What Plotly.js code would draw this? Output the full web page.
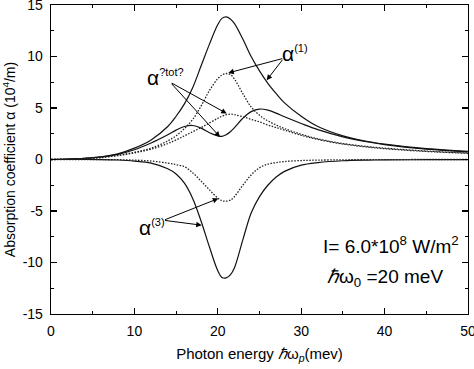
<!DOCTYPE html>
<html>
<head>
<meta charset="utf-8">
<script src="https://cdn.plot.ly/plotly-3.0.1.min.js"></script>
<style>html,body{margin:0;padding:0;background:#fff;}#chart{width:474px;height:369px;}</style>
</head>
<body>
<div id="chart"></div>
<script>
// Photon energy (meV)
const energy = [0,2,4,6,8,10,12,14,15,16,17,18,19,20,20.5,21,21.5,22,23,24,25,26,27,28,30,32,35,38,40,45,50];
// solid curves (higher-intensity set)
const alpha1Solid = [0,0.03,0.1,0.25,0.55,1.1,1.9,3.2,4.2,5.4,7.0,9.1,11.2,13.1,13.7,13.85,13.65,13.2,11.7,10.0,8.6,7.4,6.4,5.5,4.2,3.2,2.3,1.75,1.5,1.05,0.8];
const alphaTotSolid = [0,0.03,0.1,0.25,0.5,0.95,1.6,2.4,2.85,3.2,3.3,3.05,2.6,2.3,2.25,2.4,2.7,3.1,4.0,4.65,4.9,4.8,4.5,4.15,3.5,2.9,2.2,1.7,1.45,1.0,0.75];
const alpha3Solid = [0,0,0,-0.01,-0.05,-0.15,-0.35,-0.9,-1.4,-2.3,-3.8,-6.0,-8.5,-10.8,-11.45,-11.5,-11.2,-10.5,-7.8,-5.2,-3.6,-2.5,-1.7,-1.15,-0.55,-0.3,-0.12,-0.06,-0.04,-0.02,-0.01];
// dotted curves (lower-intensity set)
const alpha1Dot = [0,0.02,0.08,0.2,0.4,0.7,1.1,1.8,2.3,3.0,3.9,5.2,6.7,7.85,8.2,8.35,8.25,7.8,6.4,5.1,4.3,3.75,3.35,3.0,2.45,2.0,1.55,1.25,1.1,0.82,0.63];
const alphaTotDot = [0,0.02,0.08,0.2,0.38,0.65,1.0,1.55,1.9,2.3,2.7,3.1,3.55,4.0,4.2,4.35,4.4,4.35,4.15,3.9,3.65,3.35,3.1,2.85,2.35,1.95,1.5,1.2,1.05,0.78,0.6];
const alpha3Dot = [0,0,0,0,-0.02,-0.06,-0.15,-0.35,-0.5,-0.7,-1.3,-2.1,-2.95,-3.75,-4.0,-4.05,-3.95,-3.6,-2.5,-1.5,-0.8,-0.45,-0.3,-0.2,-0.1,-0.06,-0.03,-0.02,-0.01,0,0];

const xTicks = [0,10,20,30,40,50];
const yTicks = [-15,-10,-5,0,5,10,15];

const FONT = 'Liberation Sans, Arial, sans-serif';
function solid(y){return {x:energy,y:y,mode:'lines',line:{color:'#111',width:1.2,shape:'spline',smoothing:1},hoverinfo:'skip'};}
function dotted(y){return {x:energy,y:y,mode:'lines',line:{color:'#222',width:1.3,dash:'1.5px,1.5px',shape:'spline',smoothing:1},hoverinfo:'skip'};}

const data = [solid(alpha1Solid), solid(alphaTotSolid), solid(alpha3Solid),
              dotted(alpha1Dot), dotted(alphaTotDot), dotted(alpha3Dot)];

function label(x,y,txt){return {x:x,y:y,xref:'x',yref:'y',text:txt,showarrow:false,font:{family:FONT,size:21,color:'#000'}};}
function arrow(x0,y0,x1,y1){return {x:x1,y:y1,ax:x0,ay:y0,xref:'x',yref:'y',axref:'x',ayref:'y',text:'',showarrow:true,arrowhead:2,arrowsize:1.1,arrowwidth:1,arrowcolor:'#000'};}

const sup = s => '<sup><span style="font-size:11px">'+s+'</span></sup>';

const annotations = [
  label(29.2,10.3,'α'+sup('(1)')),
  arrow(27.9,9.83,21.26,8.41),
  arrow(27.9,9.83,25.86,7.7),
  label(13.7,8.0,'α'+sup('?tot?')),
  arrow(14.3,7.5,21.07,4.47),
  arrow(14.3,7.5,20.26,2.19),
  label(12.1,-6.6,'α'+sup('(3)')),
  arrow(13.5,-5.9,20.06,-3.79),
  arrow(13.5,-5.9,18.07,-6.38),
  {x:40.8,y:-8.3,xref:'x',yref:'y',text:'I= 6.0*10<sup>8</sup> W/m<sup>2</sup>',showarrow:false,font:{family:FONT,size:19,color:'#000'}},
  {x:40.0,y:-11.5,xref:'x',yref:'y',text:'<i>ℏ</i>ω<sub>0</sub> =20 meV',showarrow:false,font:{family:FONT,size:19,color:'#000'}}
];

const axisCommon = {
  showgrid:false, zeroline:false, showline:true, linecolor:'#000', linewidth:1.3,
  mirror:'allticks', ticks:'inside', ticklen:6, tickwidth:1.2, tickcolor:'#000',
  ticklabeloverflow:'allow', ticklabelstandoff:4,
  tickfont:{family:FONT,size:14,color:'#000'}
};

const layout = {
  width:474, height:369,
  margin:{l:51,r:6,t:5,b:55},
  paper_bgcolor:'#fff', plot_bgcolor:'#fff',
  showlegend:false,
  xaxis:Object.assign({}, axisCommon, {
    range:[0,50], tickvals:xTicks, ticktext:xTicks.map(String),
    minor:{dtick:5,tick0:0,ticks:'inside',ticklen:3,tickwidth:1,tickcolor:'#000'},
    title:{text:'Photon energy <i>ℏ</i>ω<sub><i>p</i></sub>(mev)',font:{family:FONT,size:15,color:'#000'},standoff:10}
  }),
  yaxis:Object.assign({}, axisCommon, {
    range:[-15,15], tickvals:yTicks, ticktext:yTicks.map(String),
    minor:{dtick:2.5,tick0:0,ticks:'inside',ticklen:3,tickwidth:1,tickcolor:'#000'},
    title:{text:'Absorption coefficient α (10<sup>4</sup>/m)',font:{family:FONT,size:14,color:'#000'},standoff:6}
  }),
  annotations:annotations
};

Plotly.newPlot('chart', data, layout, {staticPlot:true, displayModeBar:false});
</script>
</body>
</html>
